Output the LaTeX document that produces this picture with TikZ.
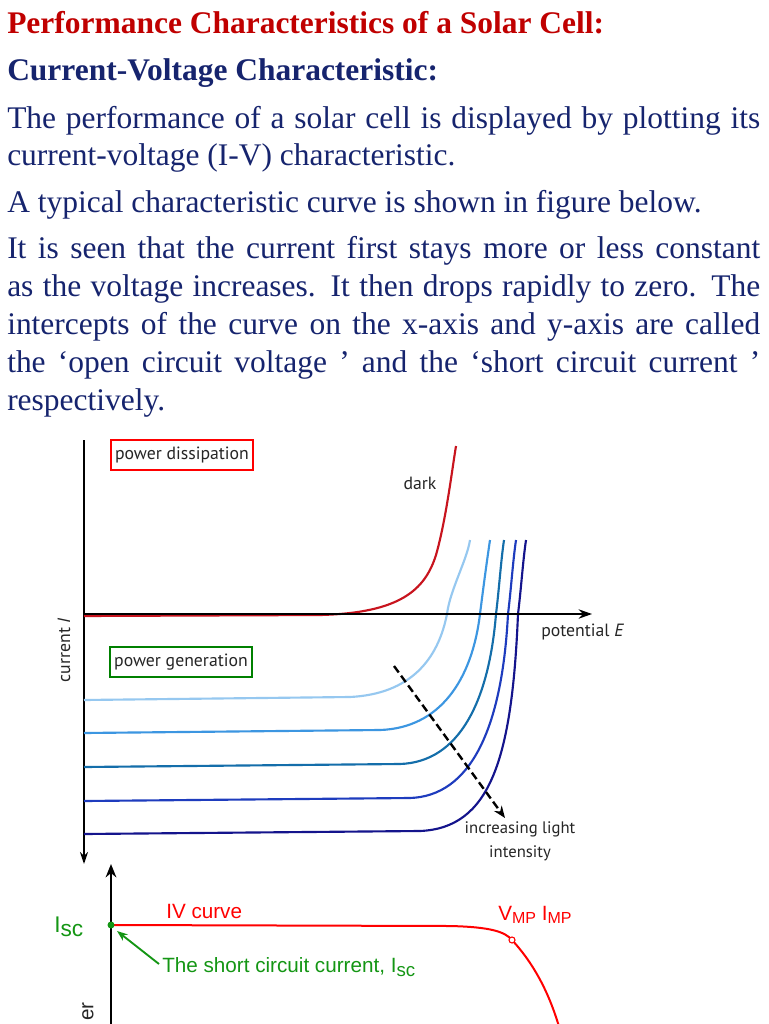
\documentclass[tikz,border=0pt]{standalone}
\usepackage{fontspec}
\setmainfont{Liberation Serif}
\newfontfamily\plotfont{PT Sans}
\newfontfamily\arialf{Liberation Sans}
\usetikzlibrary{arrows.meta}
\definecolor{ttlred}{RGB}{192,0,0}
\definecolor{navy}{RGB}{22,36,110}
\definecolor{cA}{RGB}{150,200,240}
\definecolor{cB}{RGB}{60,150,225}
\definecolor{cC}{RGB}{20,110,170}
\definecolor{cD}{RGB}{30,60,190}
\definecolor{cE}{RGB}{20,20,140}
\definecolor{dkred}{RGB}{200,20,30}
\definecolor{grn}{RGB}{20,150,20}
\begin{document}
\begin{tikzpicture}[x=0.75pt,y=-0.75pt,
  body/.style={anchor=base west,inner sep=0pt,text=navy,font=\fontsize{23.6}{28}\selectfont},
  ttl/.style={body,font=\fontsize{23.6}{28}\selectfont\bfseries},
  lbl/.style={font=\plotfont\fontsize{13.3}{15}\selectfont,text=black!85,inner sep=0pt},
  rbox/.style={lbl,draw,line width=1.2pt,minimum height=22.5pt,inner sep=3pt},
  crv/.style={line width=1.6pt},
  ivl/.style={font=\arialf\fontsize{15.5}{17}\selectfont,inner sep=0pt}]
\useasboundingbox (0,0) rectangle (768,1024);
\clip (0,0) rectangle (768,1024);
\fill[white] (0,0) rectangle (768,1024);
% text
\newcommand\jl[1]{\makebox[564.75pt][s]{#1}}
\node[ttl,text=ttlred] (t1) at (7,34) {Performance Characteristics of a Solar Cell:};
\node[ttl] (t2) at (7,80) {Current-Voltage Characteristic:};
\node[body] (p1) at (7,128) {\jl{The performance of a solar cell is displayed by plotting its}};
\node[body] (p2) at (7,165) {current-voltage (I-V) characteristic.};
\node[body] (p3) at (7,212) {A typical characteristic curve is shown in figure below.};
\node[body] (p4) at (7,258) {\jl{It is seen that the current first stays more or less constant}};
\node[body] (p5) at (7,296) {\jl{as the voltage increases. It then drops rapidly to zero. The}};
\node[body] (p6) at (7,334) {\jl{intercepts of the curve on the x-axis and y-axis are called}};
\node[body] (p7) at (7,372) {\jl{the ‘open circuit voltage ’ and the ‘short circuit current ’}};
\node[body] (p8) at (7,410) {respectively.};
% top plot axes
\coordinate (yt) at (84,440); \coordinate (yb) at (84,864);
\coordinate (xl) at (84,614); \coordinate (xr) at (592,614);
\draw[line width=1.4pt,-{Stealth[length=9pt,width=6pt]}] (yt) -- (yb);
% curves
\draw[crv,dkred] (84,616) -- (320,615) .. controls (400,613) and (425,590) .. (436,555) .. controls (446,520) and (452,470) .. (456,446);
\draw[crv,cA] (84,700) -- (350,697) .. controls (410,694) and (438,660) .. (447,614) .. controls (450,590) and (467,560) .. (470,540);
\draw[crv,cB] (84,733) -- (380,730) .. controls (440,728) and (472,680) .. (480,614) .. controls (483,590) and (487,560) .. (490,540);
\draw[crv,cC] (84,767) -- (400,764) .. controls (460,762) and (489,700) .. (496,614) .. controls (499,590) and (501,560) .. (504,540);
\draw[crv,cD] (84,801) -- (410,798) .. controls (470,796) and (502,730) .. (508,614) .. controls (511,590) and (513,560) .. (516,540);
\draw[crv,cE] (84,834) -- (420,831) .. controls (490,828) and (512,760) .. (518,614) .. controls (521,590) and (523,560) .. (526,540);
\draw[line width=1.4pt,-{Stealth[length=10pt,width=7pt]}] (xl) -- (xr);
\coordinate (ds) at (394,666); \coordinate (de) at (505,818);
\draw[line width=1.8pt,dash pattern=on 6pt off 3pt,-{Stealth[length=9pt,width=7pt]}] (ds) -- (de);
\node[rbox,draw=red] (pd) at (182,455) {power dissipation};
\node[rbox,draw=green!50!black] (pg) at (181,662) {power generation};
\node[lbl] (dk) at (420,483) {dark};
\node[lbl,anchor=west] (pe) at (541,632) {potential \textit{E}};
\node[lbl,rotate=90] (ci) at (64,650) {current \textit{I}};
\node[lbl,align=center,font=\plotfont\fontsize{12.5}{18}\selectfont] (il) at (520,841) {increasing light\\intensity};
% bottom plot
\coordinate (by) at (111,1030); \coordinate (bt) at (111,864);
\draw[line width=1.8pt,-{Stealth[length=10pt,width=8pt]}] (by) -- (bt);
\coordinate (isc) at (111,925);
\draw[red,line width=1.5pt] (isc) -- (450,926) .. controls (492,927) and (505,932) .. (512,940) .. controls (535,965) and (550,995) .. (560,1030);
\node[draw=red,fill=white,circle,inner sep=1.6pt,line width=0.8pt] (mp) at (512,940) {};
\fill[grn] (isc) circle (3.5);
\node[ivl,text=red,anchor=base west] (ivc) at (166,918) {IV curve};
\node[ivl,text=red,anchor=base west] (vmp) at (498,920) {V\raisebox{-0.35ex}{\fontsize{12}{13}\selectfont MP} I\raisebox{-0.35ex}{\fontsize{12}{13}\selectfont MP}};
\node[ivl,text=grn,anchor=base west,font=\arialf\fontsize{17}{19}\selectfont] (isl) at (54,932) {I\raisebox{-0.4ex}{sc}};
\node[ivl,text=grn,anchor=base west] (scl) at (162,972) {The short circuit current, I\raisebox{-0.4ex}{\fontsize{14}{15}\selectfont sc}};
\draw[grn,line width=1.4pt,-{Stealth[length=8pt,width=6pt]}] (159,964) -- (117,931);
\node[ivl,rotate=90,anchor=west,text=black!85] (pw) at (88,1021) {er};
\end{tikzpicture}
\end{document}
